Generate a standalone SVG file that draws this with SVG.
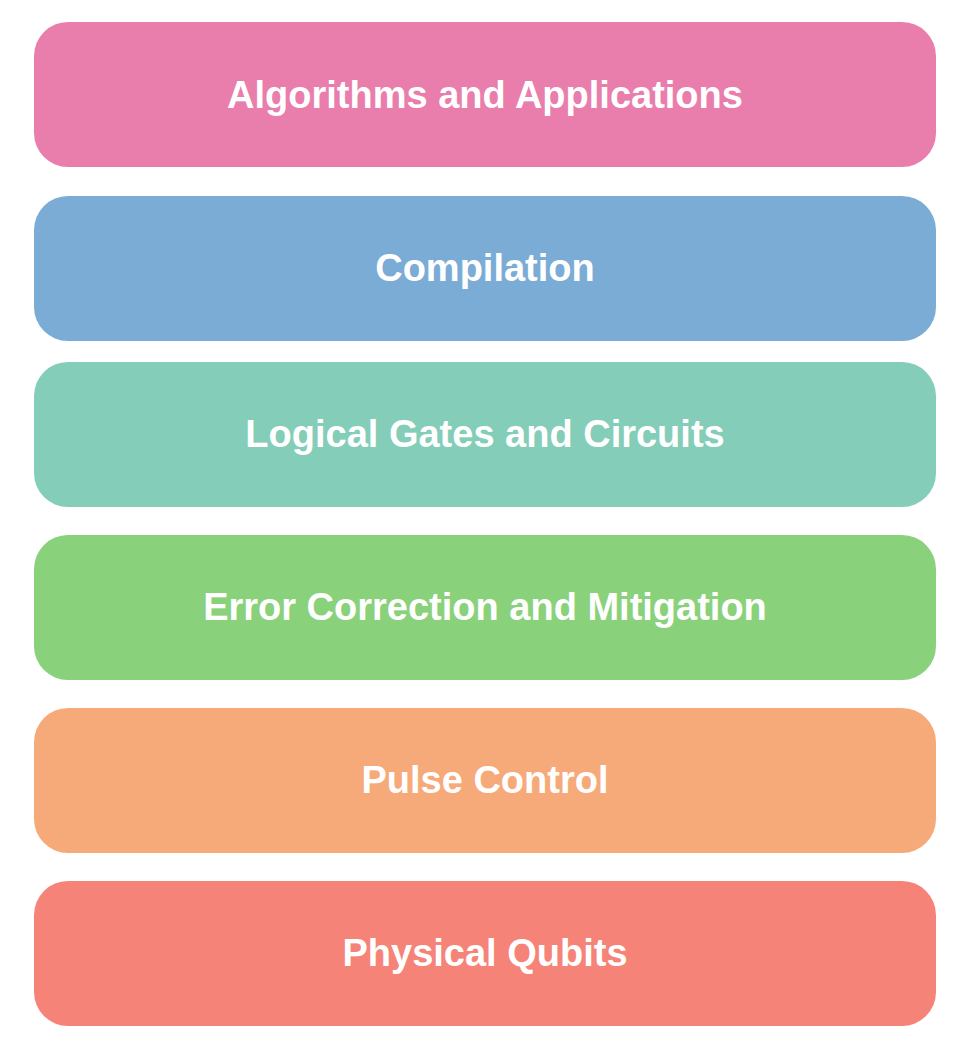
<svg xmlns="http://www.w3.org/2000/svg" width="962" height="1056" viewBox="0 0 962 1056">
<style>
rect{rx:34px;ry:34px}
text{font-family:"Liberation Sans",Arial,sans-serif;font-weight:bold;font-size:38px;fill:#fff;text-anchor:middle;dominant-baseline:central}
</style>
<rect x="0" y="0" width="962" height="1056" fill="#fff" style="rx:0;ry:0"/>
<g id="n1"><rect x="34" y="22" width="902" height="145" fill="#E97DAC"/><text x="485" y="95">Algorithms and Applications</text></g>
<g id="n2"><rect x="34" y="196" width="902" height="145" fill="#7AACD6"/><text x="485" y="268">Compilation</text></g>
<g id="n3"><rect x="34" y="362" width="902" height="145" fill="#84CDB8"/><text x="485" y="434">Logical Gates and Circuits</text></g>
<g id="n4"><rect x="34" y="535" width="902" height="145" fill="#8AD17B"/><text x="485" y="607">Error Correction and Mitigation</text></g>
<g id="n5"><rect x="34" y="708" width="902" height="145" fill="#F7AA79"/><text x="485" y="780">Pulse Control</text></g>
<g id="n6"><rect x="34" y="881" width="902" height="145" fill="#F68378"/><text x="485" y="953">Physical Qubits</text></g>
<g id="connectors"/>
</svg>
